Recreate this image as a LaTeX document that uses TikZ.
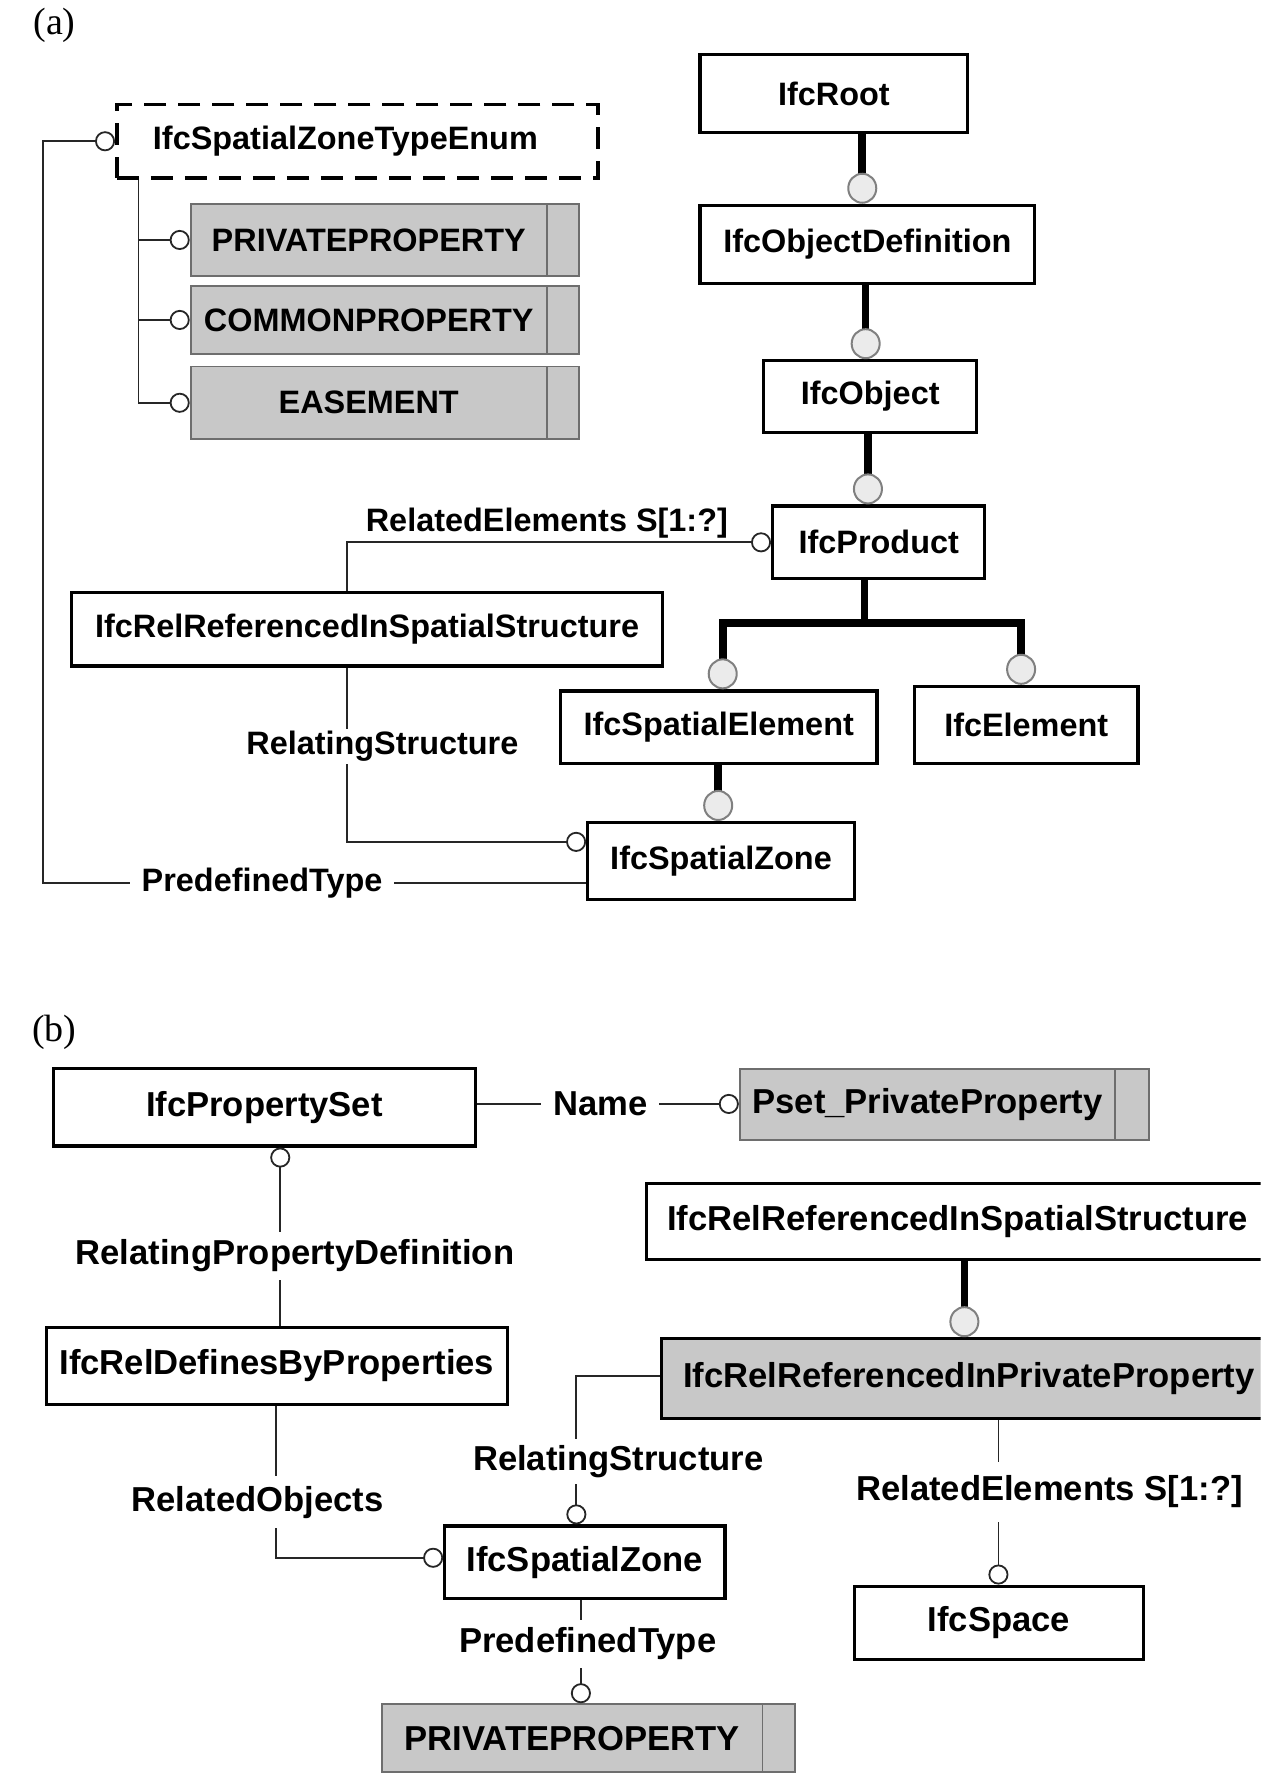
\documentclass[tikz,border=0pt]{standalone}
\usepackage{fontspec}
\setmainfont{Liberation Sans}
\newfontfamily\serifface{Liberation Serif}
\usetikzlibrary{fit,arrows.meta}
\definecolor{boxgray}{RGB}{200,200,200}
\definecolor{edgegray}{RGB}{110,110,110}
\definecolor{circfill}{RGB}{235,235,235}
\definecolor{circedge}{RGB}{128,128,128}
\newcommand\fa{\fontsize{16.2}{19}\selectfont\bfseries}
\newcommand\fb{\fontsize{17.3}{20}\selectfont\bfseries}
\begin{document}
\begin{tikzpicture}[x=0.567pt,y=-0.567pt,
 cls/.style={draw=black, line width=1.6pt, fill=white, inner sep=0pt},
 enumbox/.style={draw=black, line width=1.8pt, dash pattern=on 11pt off 6pt, fill=white, inner sep=0pt},
 valbox/.style={draw=edgegray, line width=0.9pt, fill=boxgray, inner sep=0pt},
 relbox/.style={draw=black, line width=1.6pt, fill=boxgray, inner sep=0pt},
 ta/.style={label={[font=\fa, inner sep=0pt]center:#1}},
 tb/.style={label={[font=\fb, inner sep=0pt]center:#1}},
 attr/.style={line width=0.9pt, draw=black!85, -{Circle[length=10pt, fill=white, line width=0.9pt]}},
 inh/.style={line width=3.8pt, draw=black, -{Circle[length=15.5pt, width=15pt, fill=circfill, color=circedge, line width=1pt]}},
 lbl/.style={fill=white, inner xsep=5.5pt, inner ysep=3pt},
 plainlbl/.style={inner sep=0pt},
 tag/.style={font=\serifface\fontsize{19}{22}\selectfont, inner sep=0pt}
]
\clip (0,0) rectangle (1111,1568);
\fill[white] (0,0) rectangle (1111,1568);

% ---------------- (a) ----------------
\node[tag] (taga) at (48,22) {(a)};
\node[enumbox, fit={(103,92) (527,157)}, label={[font=\fa, inner sep=0pt, xshift=-6pt]center:IfcSpatialZoneTypeEnum}] (enum) {};
\node[valbox, fit={(168,180) (482,243)}, ta=PRIVATEPROPERTY] (ppa) {};
\draw[valbox] (482,180) rectangle (510,243);
\node[valbox, fit={(168,252) (482,312)}, ta=COMMONPROPERTY] (cpa) {};
\draw[valbox] (482,252) rectangle (510,312);
\node[valbox, fit={(168,323) (482,387)}, ta=EASEMENT] (eaa) {};
\draw[valbox] (482,323) rectangle (510,387);

\node[cls, fit={(617,48) (853,117)}, ta=IfcRoot] (root) {};
\node[cls, fit={(617,181) (912,250)}, ta=IfcObjectDefinition] (objdef) {};
\node[cls, fit={(673,318) (861,381)}, ta=IfcObject] (obj) {};
\node[cls, fit={(681,446) (868,510)}, ta=IfcProduct] (prod) {};
\node[cls, fit={(63,522) (584,587)}, ta=IfcRelReferencedInSpatialStructure] (relA) {};
\node[cls, fit={(494,609) (773,673)}, ta=IfcSpatialElement] (spel) {};
\node[cls, fit={(806,605) (1003,673)}, ta=IfcElement] (elem) {};
\node[cls, fit={(518,725) (753,793)}, ta=IfcSpatialZone] (zoneA) {};

% inheritance (a)
\draw[inh] (root.south -| 760,0) -- (objdef.north -| 760,0);
\draw[inh] (objdef.south -| 763,0) -- (obj.north -| 763,0);
\draw[inh] (obj.south -| 765,0) -- (prod.north -| 765,0);
\draw[inh] (prod.south -| 762,0) -- (762,549) -| (spel.north -| 637,0);
\draw[inh] (762,549) -| (elem.north -| 900,0);
\draw[inh] (spel.south -| 633,0) -- (zoneA.north -| 633,0);

% attributes (a)
\draw[attr] (enum.south -| 122,0) |- (ppa.west);
\draw[attr] (enum.south -| 122,0) |- (cpa.west);
\draw[attr] (enum.south -| 122,0) |- (eaa.west);
\draw[attr] (relA.north -| 306,0) |- (prod.west);
\draw[attr] (relA.south -| 306,0) |- (zoneA.west |- 0,742);
\draw[attr] (zoneA.west |- 0,778) -- (38,778) |- (enum.west);

\node[plainlbl, font=\fa] (lREa) at (482,461) {RelatedElements S[1:?]};
\node[lbl, inner ysep=1pt, font=\fa] (lRSa) at (337,658) {RelatingStructure};
\node[lbl, inner xsep=6pt, font=\fa] (lPTa) at (231,778) {PredefinedType};

% ---------------- (b) ----------------
\node[tag] (tagb) at (48,910) {(b)};
\node[cls, fit={(47,942) (419,1010)}, tb=IfcPropertySet] (pset) {};
\node[valbox, fit={(652,942) (983,1005)}, tb=Pset\_PrivateProperty] (psetpp) {};
\draw[valbox] (983,942) rectangle (1013,1005);
\node[cls, fit={(570,1043) (1125,1110)}, label={[font=\fb, inner sep=0pt, xshift=-2pt]center:IfcRelReferencedInSpatialStructure}] (rrss) {};
\node[relbox, fit={(583,1180) (1125,1250)}, tb=IfcRelReferencedInPrivateProperty] (rrpp) {};
\node[cls, fit={(41,1170) (447,1238)}, tb=IfcRelDefinesByProperties] (rdbp) {};
\node[cls, fit={(392,1345) (639,1409)}, tb=IfcSpatialZone] (zoneB) {};
\node[cls, fit={(753,1398) (1008,1463)}, tb=IfcSpace] (space) {};
\node[valbox, fit={(337,1502) (672,1562)}, tb=PRIVATEPROPERTY] (ppb) {};
\draw[valbox] (672,1502) rectangle (701,1562);

\draw[inh] (rrss.south -| 850,0) -- (rrpp.north -| 850,0);

\draw[attr] (pset.east |- 0,973) -- (psetpp.west |- 0,973);
\draw[attr] (rdbp.north -| 247,0) -- (pset.south -| 247,0);
\draw[attr] (rdbp.south -| 243,0) |- (zoneB.west |- 0,1373);
\draw[attr] (rrpp.west |- 0,1213) -| (zoneB.north -| 508,0);
\draw[attr] (rrpp.south -| 880,0) -- (space.north -| 880,0);
\draw[attr] (zoneB.south -| 512,0) -- (ppb.north -| 512,0);

\node[lbl, inner xsep=6pt, font=\fb] (lName) at (529,973) {Name};
\node[lbl, inner ysep=4pt, font=\fb] (lRPD) at (260,1107) {RelatingPropertyDefinition};
\node[lbl, inner ysep=5pt, font=\fb] (lRO) at (227,1324) {RelatedObjects};
\node[lbl, inner ysep=3pt, font=\fb] (lRSb) at (545,1288) {RelatingStructure};
\node[lbl, inner ysep=7pt, font=\fb] (lREb) at (925,1315) {RelatedElements S[1:?]};
\node[lbl, inner ysep=4pt, font=\fb] (lPTb) at (518,1449) {PredefinedType};
\end{tikzpicture}
\end{document}
